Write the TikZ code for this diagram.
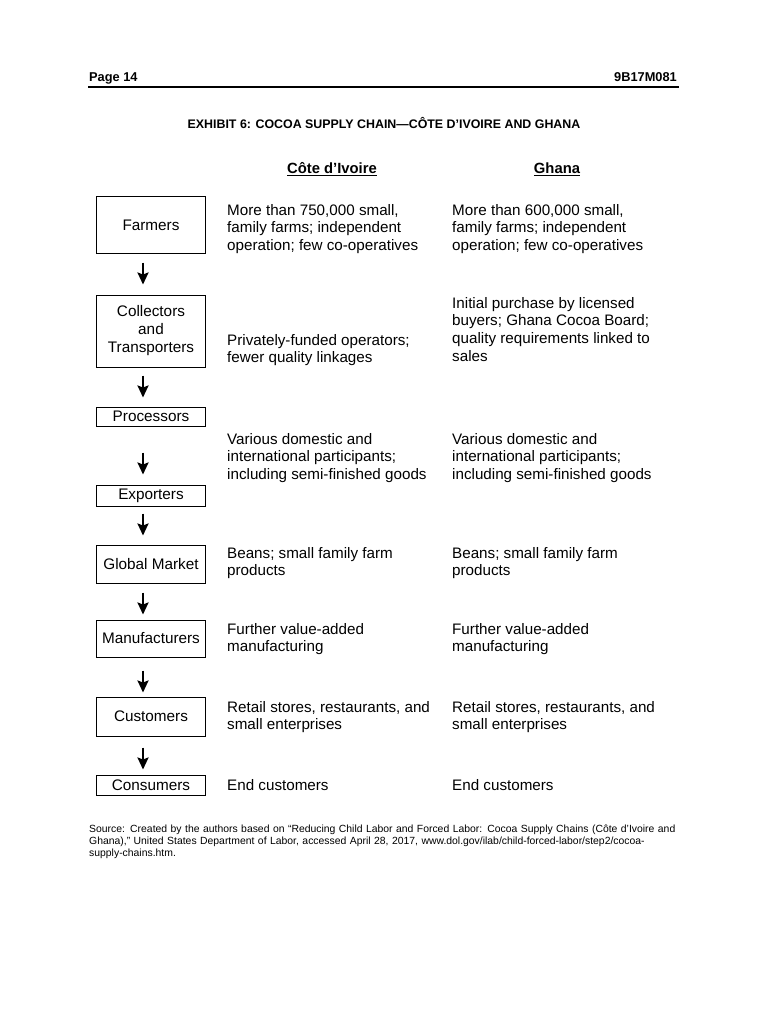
\documentclass[tikz,border=0pt]{standalone}
\usepackage{fontspec}
\setmainfont{Liberation Sans}
\usetikzlibrary{arrows.meta}
\tikzset{
  stage/.style={draw, line width=1pt, minimum width=109pt, inner sep=0pt, align=center, font=\fontsize{15.3}{18}\selectfont},
  desc/.style={anchor=north west, inner sep=0pt, align=left, font=\fontsize{15.2}{17.6}\selectfont},
  colhead/.style={inner sep=0pt, font=\fontsize{14.8}{17}\selectfont\bfseries},
  arr/.style={line width=2.2pt, -{Stealth[length=12pt,width=11pt,inset=2pt]}}
}
\begin{document}
\begin{tikzpicture}[x=1pt,y=-1pt]
\useasboundingbox[fill=white] (0,0) rectangle (768,1024);
% page header
\node[anchor=base west, inner sep=0pt, font=\fontsize{12.8}{14}\selectfont\bfseries] (page) at (89,82) {Page 14};
\node[anchor=base east, inner sep=0pt, font=\fontsize{12.8}{14}\selectfont\bfseries] (code) at (677,82) {9B17M081};
\draw[line width=2.7pt] (88,87) -- (679,87);
% title
\node[inner sep=0pt, font=\fontsize{12.4}{14}\selectfont\bfseries] (title) at (384,123) {EXHIBIT 6: COCOA SUPPLY CHAIN—CÔTE D’IVOIRE AND GHANA};
% column heads
\node[colhead] (hci) at (332,169) {\underline{Côte d’Ivoire}};
\node[colhead] (hgh) at (557,169) {\underline{Ghana}};
% stages
\node[stage, minimum height=56pt] (farm) at (151,225) {Farmers};
\node[stage, minimum height=72pt] (coll) at (151,331) {Collectors\\and\\Transporters};
\node[stage, minimum height=19pt] (proc) at (151,416.5) {Processors};
\node[stage, minimum height=21pt] (expo) at (151,495.5) {Exporters};
\node[stage, minimum height=38pt] (glob) at (151,564) {Global Market};
\node[stage, minimum height=37pt] (manu) at (151,638.5) {Manufacturers};
\node[stage, minimum height=39pt] (cust) at (151,716.5) {Customers};
\node[stage, minimum height=20pt] (cons) at (151,785) {Consumers};
% arrows
\draw[arr, shorten <=9pt, shorten >=10pt] ([xshift=-8pt]farm.south) -- ([xshift=-8pt]coll.north);
\draw[arr, shorten <=8pt, shorten >=9pt] ([xshift=-8pt]coll.south) -- ([xshift=-8pt]proc.north);
\draw[arr, shorten <=26pt, shorten >=10pt] ([xshift=-8pt]proc.south) -- ([xshift=-8pt]expo.north);
\draw[arr, shorten <=7pt, shorten >=9pt] ([xshift=-8pt]expo.south) -- ([xshift=-8pt]glob.north);
\draw[arr, shorten <=9pt, shorten >=5pt] ([xshift=-8pt]glob.south) -- ([xshift=-8pt]manu.north);
\draw[arr, shorten <=13pt, shorten >=4pt] ([xshift=-8pt]manu.south) -- ([xshift=-8pt]cust.north);
\draw[arr, shorten <=11pt, shorten >=5pt] ([xshift=-8pt]cust.south) -- ([xshift=-8pt]cons.north);
% Cote d'Ivoire column
\node[desc] (c1) at (227,204) {More than 750,000 small,\\family farms; independent\\operation; few co-operatives};
\node[desc] (c2) at (227,334) {Privately-funded operators;\\fewer quality linkages};
\node[desc] (c3) at (227,433) {Various domestic and\\international participants;\\including semi-finished goods};
\node[desc] (c4) at (227,547) {Beans; small family farm\\products};
\node[desc] (c5) at (227,623) {Further value-added\\manufacturing};
\node[desc] (c6) at (227,701) {Retail stores, restaurants, and\\small enterprises};
\node[desc] (c7) at (227,779) {End customers};
% Ghana column
\node[desc] (g1) at (452,204) {More than 600,000 small,\\family farms; independent\\operation; few co-operatives};
\node[desc] (g2) at (452,297) {Initial purchase by licensed\\buyers; Ghana Cocoa Board;\\quality requirements linked to\\sales};
\node[desc] (g3) at (452,433) {Various domestic and\\international participants;\\including semi-finished goods};
\node[desc] (g4) at (452,547) {Beans; small family farm\\products};
\node[desc] (g5) at (452,623) {Further value-added\\manufacturing};
\node[desc] (g6) at (452,701) {Retail stores, restaurants, and\\small enterprises};
\node[desc] (g7) at (452,779) {End customers};
% source
\node[anchor=north west, inner sep=0pt, text width=588pt, align=left, font=\fontsize{10.4}{11.7}\selectfont] (src) at (89,825)
{\makebox[588pt][s]{Source: Created by the authors based on “Reducing Child Labor and Forced Labor: Cocoa Supply Chains (Côte d’Ivoire and}\\
\makebox[588pt][s]{Ghana),” United States Department of Labor, accessed April 28, 2017, www.dol.gov/ilab/child-forced-labor/step2/cocoa-}\\
supply-chains.htm.};
\end{tikzpicture}
\end{document}
